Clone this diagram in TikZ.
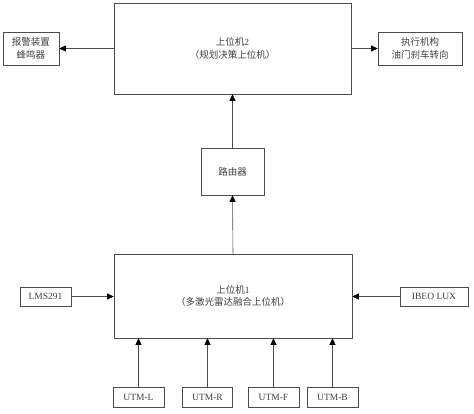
\documentclass[tikz,border=0pt]{standalone}
\usepackage{fontspec}
\setmainfont{Liberation Serif}
\newfontfamily\cjk{Noto Sans CJK SC}
\usetikzlibrary{arrows.meta}
\begin{document}
\begin{tikzpicture}[x=1pt,y=-1pt,
  box/.style={draw=black!70,line width=0.6pt,inner sep=0pt,align=center,text=black!75,font=\fontsize{9.5}{12.5}\selectfont\cjk},
  lat/.style={font=\fontsize{9.5}{11}\selectfont\rmfamily},
  arr/.style={draw=black!70,line width=0.6pt,-{Triangle[length=6.5pt,width=6pt,fill=black,color=black]}}]
\useasboundingbox (0,0) rectangle (474,413);
\node[box,minimum width=237pt,minimum height=91pt] (pc2) at (232.5,48.5) {上位机\rmfamily 2\\（规划决策上位机）};
\node[box,minimum width=56pt,minimum height=33pt] (alarm) at (31,48.5) {报警装置\\蜂鸣器};
\node[box,minimum width=84pt,minimum height=33pt] (act) at (420,48.5) {执行机构\\油门刹车转向};
\node[box,minimum width=63pt,minimum height=47pt] (router) at (232.5,171.5) {路由器};
\node[box,minimum width=238pt,minimum height=84pt] (pc1) at (233,296) {上位机\rmfamily 1\\（多激光雷达融合上位机）};
\node[box,lat,minimum width=51pt,minimum height=19pt] (lms) at (45.5,296.5) {LMS291};
\node[box,lat,minimum width=68pt,minimum height=19pt] (ibeo) at (434,296.5) {IBEO LUX};
\node[box,lat,minimum width=51pt,minimum height=20pt] (utml) at (138.5,397) {UTM-L};
\node[box,lat,minimum width=50pt,minimum height=20pt] (utmr) at (207.5,397) {UTM-R};
\node[box,lat,minimum width=51pt,minimum height=20pt] (utmf) at (273.5,397) {UTM-F};
\node[box,lat,minimum width=51pt,minimum height=20pt] (utmb) at (332.5,397) {UTM-B};
\draw[arr] (pc2.west) -- (alarm.east);
\draw[arr] (pc2.east) -- (act.west);
\draw[arr] (router.north) -- (pc2.south);
\draw[arr] (pc1.north) -- (router.south);
\draw[arr] (lms.east) -- (lms.east -| pc1.west);
\draw[arr] (ibeo.west) -- (ibeo.west -| pc1.east);
\draw[arr] (utml.north) -- (utml.north |- pc1.south);
\draw[arr] (utmr.north) -- (utmr.north |- pc1.south);
\draw[arr] (utmf.north) -- (utmf.north |- pc1.south);
\draw[arr] (utmb.north) -- (utmb.north |- pc1.south);
\end{tikzpicture}
\end{document}
